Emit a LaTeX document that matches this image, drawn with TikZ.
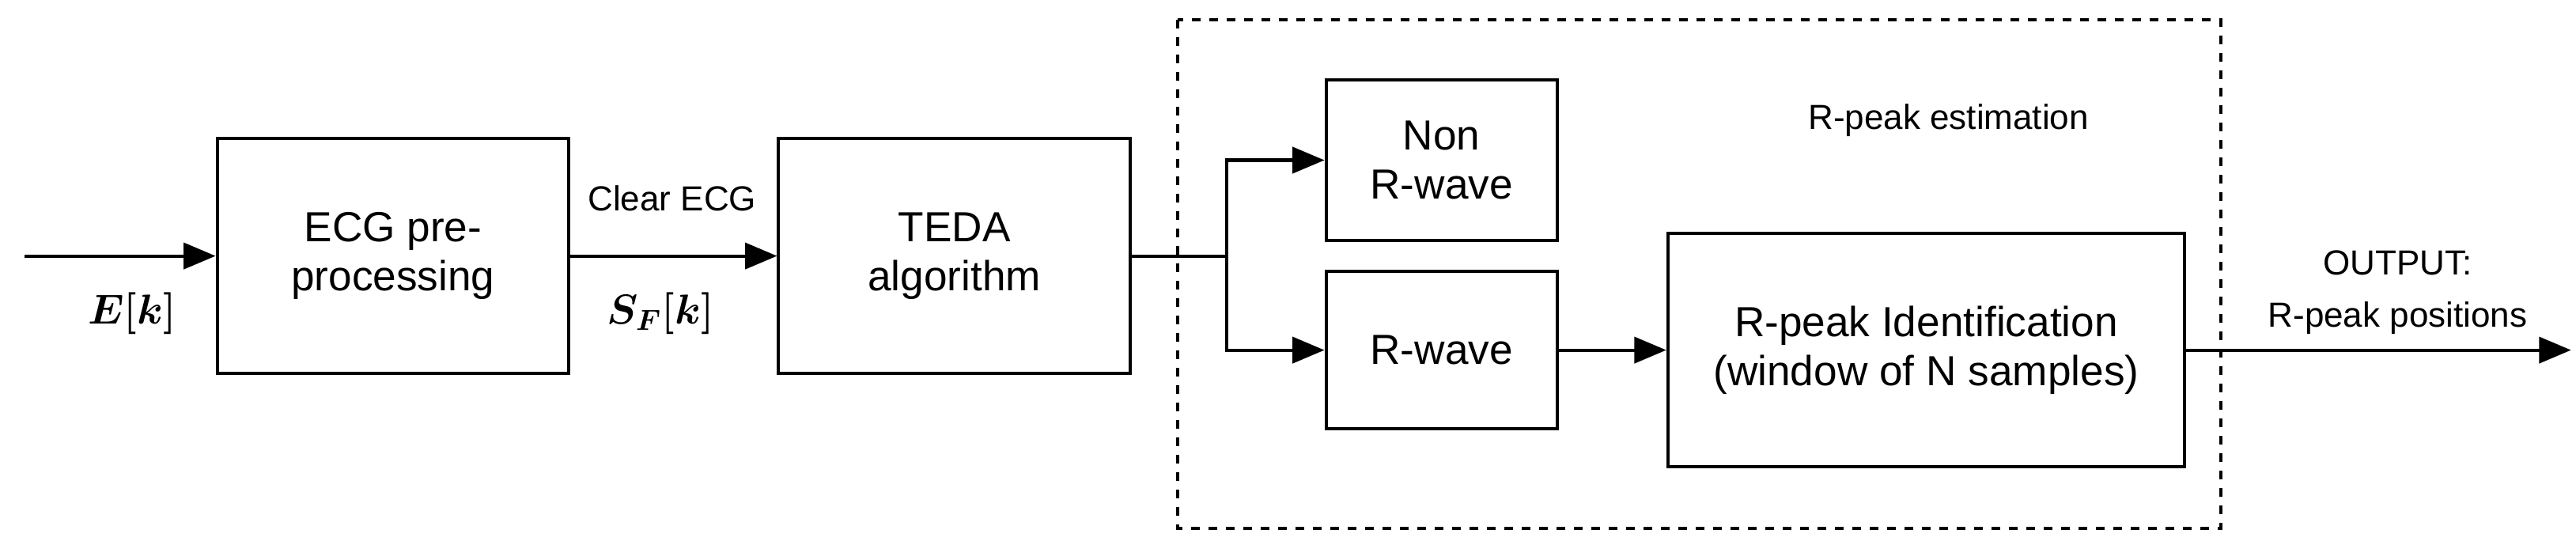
\documentclass[tikz,border=0pt]{standalone}
\usepackage{fontspec}
\setmainfont{Liberation Sans}
\usepackage{amsmath,bm}
\usetikzlibrary{arrows.meta,positioning}
\tikzset{
  block/.style={draw, line width=1.1pt, align=center, inner sep=0pt},
  link/.style={line width=1.1pt, -{Triangle[length=11pt,width=9pt]}},
  plain/.style={line width=1.1pt},
  lbl/.style={font=\fontsize{12pt}{14pt}\selectfont, align=center},
}
\begin{document}
\begin{tikzpicture}[x=0.02cm, y=-0.02cm, font=\fontsize{14.5pt}{17pt}\selectfont]
  \useasboundingbox (0,0) rectangle (1560,330);
  % Define the blocks
  \node[block, minimum width=4.26cm, minimum height=2.84cm] (pre) at (238,155) {ECG pre-\\processing};
  \node[block, minimum width=4.26cm, minimum height=2.84cm] (teda) at (578,155) {TEDA\\algorithm};
  \node[block, minimum width=2.8cm, minimum height=1.94cm] (non) at (873,97) {Non\\R-wave};
  \node[block, minimum width=2.8cm, minimum height=1.9cm] (rwave) at (873,212) {R-wave};
  \node[block, minimum width=6.26cm, minimum height=2.82cm] (ident) at (1166.5,212) {R-peak Identification\\(window of N samples)};
  \coordinate (in) at (15,155);
  \coordinate (split) at (743,155);
  \coordinate (out) at (1557,212);

  % Dashed frame of the estimation stage
  \draw[plain, dashed] (713,12) rectangle (1345,320);
  \node[lbl] (est) at (1180,73) {R-peak estimation};

  % Connectors
  \draw[link] (in) -- (pre);
  \draw[link] (pre) -- (teda);
  \draw[plain] (teda) -- (split);
  \draw[link] (split) |- (non);
  \draw[link] (split) |- (rwave);
  \draw[link] (rwave) -- (rwave -| ident.west);
  \draw[link] (ident.east |- out) -- (out);

  % Signal labels
  \node (ek) at (80,190) {$\bm{E[k]}$};
  \node[lbl] (clear) at (407,120) {Clear ECG};
  \node (sf) at (400,190) {$\bm{S_F[k]}$};
  \node[lbl] (outlbl) at (1452,177) {OUTPUT:\\[4pt]R-peak positions};
\end{tikzpicture}
\end{document}
